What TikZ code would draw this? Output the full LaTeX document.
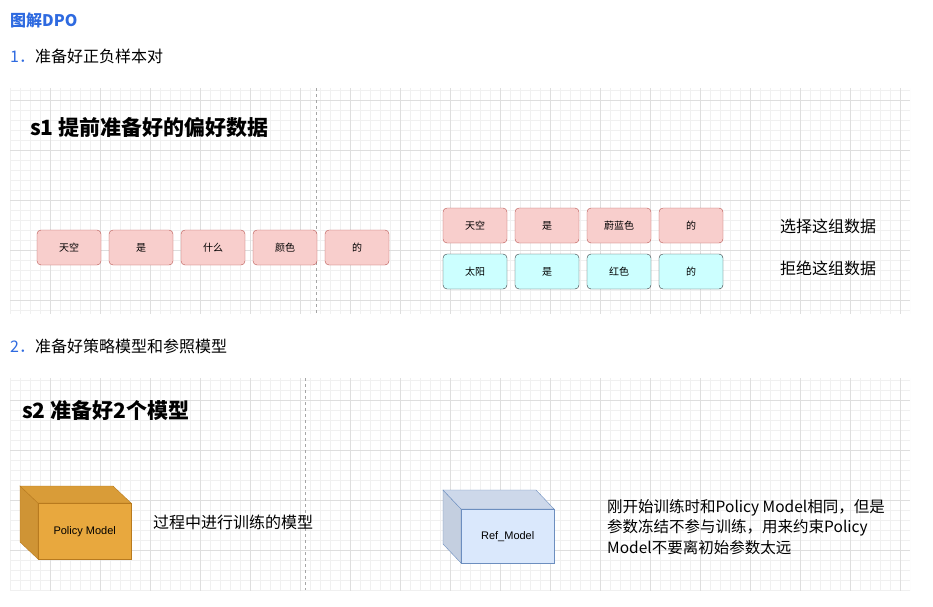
\documentclass[tikz,border=0pt]{standalone}
\usepackage{fontspec}
\setmainfont{Noto Sans CJK SC}
\newfontfamily\hv{Liberation Sans}
\definecolor{pkf}{HTML}{F8CECC}\definecolor{pkd}{HTML}{B85450}
\definecolor{cyf}{HTML}{CCFFFF}\definecolor{cyd}{HTML}{36393D}
\definecolor{orf}{HTML}{E8A83E}\definecolor{ors}{HTML}{CF9435}\definecolor{ort}{HTML}{D99C38}\definecolor{ord}{HTML}{B87A1E}
\definecolor{blf}{HTML}{DAE8FC}\definecolor{bls}{HTML}{C4CFE0}\definecolor{blt}{HTML}{CDD8EA}\definecolor{bld}{HTML}{6C8EBF}
\definecolor{ttl}{HTML}{2E6AE0}
\begin{document}
\begin{tikzpicture}[x=1pt,y=-1pt,
  tok/.style={rounded corners=4pt,minimum width=64pt,minimum height=35pt,inner sep=0pt,font=\fontsize{10}{12}\selectfont},
  pk/.style={tok,draw=pkd,fill=pkf},
  cy/.style={tok,fill=cyf,draw=cyd},
  txt/.style={anchor=west,inner sep=0pt,font=\fontsize{16}{18}\selectfont},
  hd/.style={anchor=west,inner sep=0pt,font=\bfseries\fontsize{21}{23}\selectfont}]
\useasboundingbox (0,0) rectangle (933,606);
\fill[white] (0,0) rectangle (933,606);
\begin{scope}
\clip (10,88) rectangle (910,313);
\draw[black!6,step=10pt] (10,80) grid (910,320);
\draw[black!13] (10,80) grid[step=50pt] (910,320);
\end{scope}
\draw[black!35,dashed] (316,88) -- (316,313);
\begin{scope}
\clip (10,378) rectangle (910,590);
\draw[black!6,step=10pt] (10,370) grid (910,600);
\draw[black!13] (10,370) grid[step=50pt] (910,600);
\end{scope}
\draw[black!35,dashed] (305,378) -- (305,590);
\node[anchor=west,inner sep=0pt,text=ttl,font=\bfseries\fontsize{16}{18}\selectfont] (t) at (10,20) {图解DPO};
\node[txt] (h1) at (10,56) {\textcolor{ttl}{1．}准备好正负样本对};
\node[txt] (h2) at (10,346) {\textcolor{ttl}{2．}准备好策略模型和参照模型};
\node[hd] (s1) at (30,128) {s1 提前准备好的偏好数据};
\node[hd] (s2) at (22,410) {s2 准备好2个模型};
\node[pk] (a1) at (69,247.5) {天空};
\node[pk] (a2) at (141,247.5) {是};
\node[pk] (a3) at (213,247.5) {什么};
\node[pk] (a4) at (285,247.5) {颜色};
\node[pk] (a5) at (357,247.5) {的};
\node[pk] (b1) at (475,225.5) {天空};
\node[pk] (b2) at (547,225.5) {是};
\node[pk] (b3) at (619,225.5) {蔚蓝色};
\node[pk] (b4) at (691,225.5) {的};
\node[cy] (c1) at (475,271.5) {太阳};
\node[cy] (c2) at (547,271.5) {是};
\node[cy] (c3) at (619,271.5) {红色};
\node[cy] (c4) at (691,271.5) {的};
\node[txt] (l1) at (780,226) {选择这组数据};
\node[txt] (l2) at (780,268) {拒绝这组数据};
\fill[ors,draw=ord] (20,486) -- (38,503) -- (38,559) -- (20,542) -- cycle;
\fill[ort,draw=ord] (20,486) -- (113,486) -- (131,503) -- (38,503) -- cycle;
\node[draw=ord,fill=orf,minimum width=93pt,minimum height=56pt,inner sep=0pt,anchor=north west,font=\hv\fontsize{11}{13}\selectfont] (pm) at (38,503) {Policy Model};
\fill[bls,draw=bld] (443,490) -- (461,509) -- (461,563) -- (443,544) -- cycle;
\fill[blt,draw=bld] (443,490) -- (536,490) -- (554,509) -- (461,509) -- cycle;
\node[draw=bld,fill=blf,minimum width=93pt,minimum height=54pt,inner sep=0pt,anchor=north west,font=\hv\fontsize{11}{13}\selectfont] (rm) at (461,509) {Ref\_Model};
\node[txt] (p1) at (153,522) {过程中进行训练的模型};
\node[anchor=north west,inner sep=0pt,align=left,font=\fontsize{15.5}{20.5}\selectfont] (p2) at (607,499) {刚开始训练时和Policy Model相同，但是\\参数冻结不参与训练，用来约束Policy\\Model不要离初始参数太远};
\end{tikzpicture}
\end{document}
